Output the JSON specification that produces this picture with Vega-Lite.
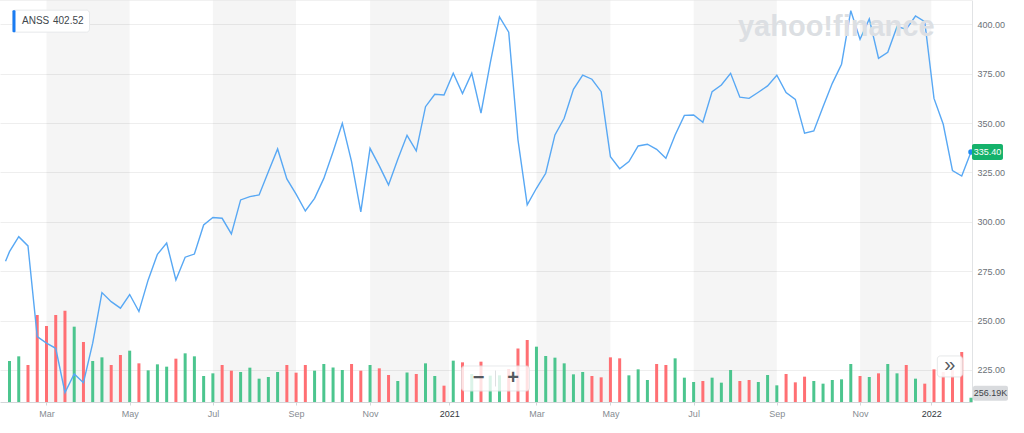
{
  "$schema": "https://vega.github.io/schema/vega-lite/v6.json",
  "width": 972,
  "height": 402,
  "autosize": {"type": "none"},
  "padding": {"left": 0, "top": 0, "right": 52, "bottom": 31},
  "background": "white",
  "config": {"view": {"stroke": null}, "font": "Liberation Sans"},
  "datasets": {
    "weeks": [
      {"date": "2020-01-31", "close": 280.0},
      {"date": "2020-02-03", "close": 284.9, "volume": 2460000, "dir": "up"},
      {"date": "2020-02-10", "close": 292.5, "volume": 2740000, "dir": "up"},
      {"date": "2020-02-17", "close": 287.8, "volume": 2220000, "dir": "down"},
      {"date": "2020-02-24", "close": 241.9, "volume": 5220000, "dir": "down"},
      {"date": "2020-03-02", "close": 238.6, "volume": 4560000, "dir": "down"},
      {"date": "2020-03-09", "close": 236.0, "volume": 5220000, "dir": "down"},
      {"date": "2020-03-16", "close": 213.6, "volume": 5480000, "dir": "down"},
      {"date": "2020-03-23", "close": 223.0, "volume": 4520000, "dir": "up"},
      {"date": "2020-03-30", "close": 218.6, "volume": 3600000, "dir": "down"},
      {"date": "2020-04-06", "close": 238.6, "volume": 2460000, "dir": "up"},
      {"date": "2020-04-13", "close": 264.2, "volume": 2680000, "dir": "up"},
      {"date": "2020-04-20", "close": 259.6, "volume": 2220000, "dir": "down"},
      {"date": "2020-04-27", "close": 256.3, "volume": 2820000, "dir": "down"},
      {"date": "2020-05-04", "close": 263.2, "volume": 3080000, "dir": "up"},
      {"date": "2020-05-11", "close": 254.6, "volume": 2320000, "dir": "down"},
      {"date": "2020-05-18", "close": 270.6, "volume": 1900000, "dir": "up"},
      {"date": "2020-05-25", "close": 283.6, "volume": 2260000, "dir": "up"},
      {"date": "2020-06-01", "close": 289.3, "volume": 2120000, "dir": "up"},
      {"date": "2020-06-08", "close": 270.6, "volume": 2600000, "dir": "down"},
      {"date": "2020-06-15", "close": 282.1, "volume": 2920000, "dir": "up"},
      {"date": "2020-06-22", "close": 283.7, "volume": 2740000, "dir": "up"},
      {"date": "2020-06-29", "close": 298.4, "volume": 1560000, "dir": "up"},
      {"date": "2020-07-06", "close": 302.2, "volume": 1720000, "dir": "up"},
      {"date": "2020-07-13", "close": 301.8, "volume": 2220000, "dir": "down"},
      {"date": "2020-07-20", "close": 293.9, "volume": 1880000, "dir": "down"},
      {"date": "2020-07-27", "close": 311.1, "volume": 1800000, "dir": "up"},
      {"date": "2020-08-03", "close": 312.8, "volume": 2060000, "dir": "up"},
      {"date": "2020-08-10", "close": 313.6, "volume": 1400000, "dir": "up"},
      {"date": "2020-08-17", "close": 325.4, "volume": 1500000, "dir": "up"},
      {"date": "2020-08-24", "close": 336.9, "volume": 1800000, "dir": "up"},
      {"date": "2020-08-31", "close": 321.7, "volume": 2220000, "dir": "down"},
      {"date": "2020-09-07", "close": 314.0, "volume": 1760000, "dir": "down"},
      {"date": "2020-09-14", "close": 305.5, "volume": 2220000, "dir": "down"},
      {"date": "2020-09-21", "close": 311.9, "volume": 1880000, "dir": "up"},
      {"date": "2020-09-28", "close": 322.0, "volume": 2280000, "dir": "up"},
      {"date": "2020-10-05", "close": 335.5, "volume": 2070000, "dir": "up"},
      {"date": "2020-10-12", "close": 349.9, "volume": 1920000, "dir": "up"},
      {"date": "2020-10-19", "close": 330.5, "volume": 2280000, "dir": "down"},
      {"date": "2020-10-26", "close": 305.0, "volume": 1880000, "dir": "down"},
      {"date": "2020-11-02", "close": 337.2, "volume": 2220000, "dir": "up"},
      {"date": "2020-11-09", "close": 328.3, "volume": 2020000, "dir": "down"},
      {"date": "2020-11-16", "close": 318.7, "volume": 1620000, "dir": "down"},
      {"date": "2020-11-23", "close": 331.7, "volume": 1260000, "dir": "up"},
      {"date": "2020-11-30", "close": 343.8, "volume": 1770000, "dir": "up"},
      {"date": "2020-12-07", "close": 335.9, "volume": 1680000, "dir": "down"},
      {"date": "2020-12-14", "close": 358.3, "volume": 2320000, "dir": "up"},
      {"date": "2020-12-21", "close": 364.6, "volume": 1560000, "dir": "up"},
      {"date": "2020-12-28", "close": 364.2, "volume": 980000, "dir": "down"},
      {"date": "2021-01-04", "close": 375.2, "volume": 2480000, "dir": "up"},
      {"date": "2021-01-11", "close": 364.9, "volume": 2380000, "dir": "down"},
      {"date": "2021-01-18", "close": 375.2, "volume": 1680000, "dir": "up"},
      {"date": "2021-01-25", "close": 355.0, "volume": 2420000, "dir": "down"},
      {"date": "2021-02-01", "close": 380.3, "volume": 1580000, "dir": "up"},
      {"date": "2021-02-08", "close": 403.8, "volume": 1600000, "dir": "up"},
      {"date": "2021-02-15", "close": 396.0, "volume": 1980000, "dir": "down"},
      {"date": "2021-02-22", "close": 341.5, "volume": 3210000, "dir": "down"},
      {"date": "2021-03-01", "close": 308.6, "volume": 3720000, "dir": "down"},
      {"date": "2021-03-08", "close": 317.0, "volume": 3320000, "dir": "up"},
      {"date": "2021-03-15", "close": 324.6, "volume": 2760000, "dir": "up"},
      {"date": "2021-03-22", "close": 344.0, "volume": 2660000, "dir": "up"},
      {"date": "2021-03-29", "close": 352.4, "volume": 2320000, "dir": "up"},
      {"date": "2021-04-05", "close": 367.1, "volume": 1660000, "dir": "up"},
      {"date": "2021-04-12", "close": 374.3, "volume": 1800000, "dir": "up"},
      {"date": "2021-04-19", "close": 372.2, "volume": 1560000, "dir": "down"},
      {"date": "2021-04-26", "close": 365.9, "volume": 1480000, "dir": "down"},
      {"date": "2021-05-03", "close": 333.0, "volume": 2680000, "dir": "down"},
      {"date": "2021-05-10", "close": 326.9, "volume": 2620000, "dir": "down"},
      {"date": "2021-05-17", "close": 330.5, "volume": 1600000, "dir": "up"},
      {"date": "2021-05-24", "close": 338.4, "volume": 1960000, "dir": "up"},
      {"date": "2021-05-31", "close": 339.3, "volume": 1320000, "dir": "up"},
      {"date": "2021-06-07", "close": 336.7, "volume": 2280000, "dir": "down"},
      {"date": "2021-06-14", "close": 332.2, "volume": 2220000, "dir": "down"},
      {"date": "2021-06-21", "close": 344.0, "volume": 2620000, "dir": "up"},
      {"date": "2021-06-28", "close": 353.9, "volume": 1460000, "dir": "up"},
      {"date": "2021-07-05", "close": 354.1, "volume": 1200000, "dir": "up"},
      {"date": "2021-07-12", "close": 350.4, "volume": 1260000, "dir": "down"},
      {"date": "2021-07-19", "close": 365.9, "volume": 1460000, "dir": "up"},
      {"date": "2021-07-26", "close": 369.3, "volume": 1160000, "dir": "up"},
      {"date": "2021-08-02", "close": 375.2, "volume": 1920000, "dir": "up"},
      {"date": "2021-08-09", "close": 363.1, "volume": 1260000, "dir": "down"},
      {"date": "2021-08-16", "close": 362.5, "volume": 1320000, "dir": "down"},
      {"date": "2021-08-23", "close": 365.6, "volume": 1200000, "dir": "up"},
      {"date": "2021-08-30", "close": 368.8, "volume": 1620000, "dir": "up"},
      {"date": "2021-09-06", "close": 374.2, "volume": 1000000, "dir": "up"},
      {"date": "2021-09-13", "close": 365.4, "volume": 1680000, "dir": "down"},
      {"date": "2021-09-20", "close": 362.0, "volume": 1180000, "dir": "down"},
      {"date": "2021-09-27", "close": 344.9, "volume": 1520000, "dir": "down"},
      {"date": "2021-10-04", "close": 346.0, "volume": 1260000, "dir": "up"},
      {"date": "2021-10-11", "close": 358.3, "volume": 1100000, "dir": "up"},
      {"date": "2021-10-18", "close": 370.1, "volume": 1320000, "dir": "up"},
      {"date": "2021-10-25", "close": 379.8, "volume": 1360000, "dir": "up"},
      {"date": "2021-11-01", "close": 406.9, "volume": 2280000, "dir": "up"},
      {"date": "2021-11-08", "close": 392.4, "volume": 1560000, "dir": "down"},
      {"date": "2021-11-15", "close": 402.7, "volume": 1500000, "dir": "up"},
      {"date": "2021-11-22", "close": 382.8, "volume": 1720000, "dir": "down"},
      {"date": "2021-11-29", "close": 385.8, "volume": 2280000, "dir": "up"},
      {"date": "2021-12-06", "close": 398.8, "volume": 1720000, "dir": "up"},
      {"date": "2021-12-13", "close": 397.5, "volume": 2220000, "dir": "down"},
      {"date": "2021-12-20", "close": 404.2, "volume": 1400000, "dir": "up"},
      {"date": "2021-12-27", "close": 401.3, "volume": 1100000, "dir": "down"},
      {"date": "2022-01-03", "close": 362.5, "volume": 1960000, "dir": "down"},
      {"date": "2022-01-10", "close": 349.4, "volume": 1800000, "dir": "down"},
      {"date": "2022-01-17", "close": 325.9, "volume": 1920000, "dir": "down"},
      {"date": "2022-01-24", "close": 323.2, "volume": 3000000, "dir": "down"},
      {"date": "2022-01-31", "close": 335.4, "volume": 256190, "dir": "up"}
    ],
    "bands": [
      {"start": "2020-03-02", "end": "2020-05-04"},
      {"start": "2020-07-06", "end": "2020-09-07"},
      {"start": "2020-11-02", "end": "2021-01-01"},
      {"start": "2021-03-08", "end": "2021-05-03"},
      {"start": "2021-07-05", "end": "2021-09-06"},
      {"start": "2021-11-08", "end": "2022-01-01"}
    ]
  },
  "layer": [
    {
      "data": {"name": "bands"},
      "mark": {"type": "rect", "color": "#000000", "opacity": 0.04},
      "encoding": {
        "x": {
          "field": "start", "type": "temporal",
          "scale": {"type": "utc", "nice": false, "padding": 0,
            "domain": [{"year": 2020, "month": 1, "date": 26, "hours": 19, "minutes": 26, "utc": true},
                       {"year": 2022, "month": 1, "date": 31, "hours": 18, "minutes": 40, "utc": true}]},
          "axis": {
            "title": null,
            "values": [
              {"year": 2020, "month": 3, "date": 2, "utc": true},
              {"year": 2020, "month": 5, "date": 4, "utc": true},
              {"year": 2020, "month": 7, "date": 6, "utc": true},
              {"year": 2020, "month": 9, "date": 7, "utc": true},
              {"year": 2020, "month": 11, "date": 2, "utc": true},
              {"year": 2021, "month": 1, "date": 1, "utc": true},
              {"year": 2021, "month": 3, "date": 8, "utc": true},
              {"year": 2021, "month": 5, "date": 3, "utc": true},
              {"year": 2021, "month": 7, "date": 5, "utc": true},
              {"year": 2021, "month": 9, "date": 6, "utc": true},
              {"year": 2021, "month": 11, "date": 8, "utc": true},
              {"year": 2022, "month": 1, "date": 1, "utc": true}
            ],
            "labelExpr": "utcFormat(datum.value, '%m') == '01' ? utcFormat(datum.value, '%Y') : utcFormat(datum.value, '%b')",
            "labelColor": {"condition": {"test": "utcFormat(datum.value, '%m') == '01'", "value": "#33383d"}, "value": "#868c92"},
            "labelFontSize": 9,
            "labelFont": "Liberation Sans",
            "labelPadding": 4,
            "tickSize": 3,
            "tickColor": "#d3d6d9",
            "domainColor": "#d3d6d9",
            "grid": false,
            "labelFlush": false,
            "labelOverlap": false
          }
        },
        "x2": {"field": "end"}
      }
    },
    {
      "data": {"name": "weeks"},
      "transform": [{"filter": "isValid(datum.volume)"}],
      "mark": {"type": "bar", "size": 3},
      "encoding": {
        "x": {"field": "date", "type": "temporal",
          "scale": {"type": "utc", "nice": false, "padding": 0,
            "domain": [{"year": 2020, "month": 1, "date": 26, "hours": 19, "minutes": 26, "utc": true},
                       {"year": 2022, "month": 1, "date": 31, "hours": 18, "minutes": 40, "utc": true}]},
          "axis": null},
        "y": {"field": "volume", "type": "quantitative",
          "scale": {"domain": [0, 24120000], "nice": false, "zero": true}, "axis": null},
        "color": {"field": "dir", "type": "nominal",
          "scale": {"domain": ["up", "down"], "range": ["#4cc58e", "#ff6f73"]}, "legend": null}
      }
    },
    {
      "layer": [
        {
          "data": {"name": "weeks"},
          "mark": {"type": "line", "color": "#58a8f4", "strokeWidth": 1.4},
          "encoding": {
            "x": {"field": "date", "type": "temporal",
              "scale": {"type": "utc", "nice": false, "padding": 0,
                "domain": [{"year": 2020, "month": 1, "date": 26, "hours": 19, "minutes": 26, "utc": true},
                           {"year": 2022, "month": 1, "date": 31, "hours": 18, "minutes": 40, "utc": true}]},
              "axis": null},
            "y": {"field": "close", "type": "quantitative",
              "scale": {"domain": [208.8, 412.3], "nice": false, "zero": false},
              "axis": {
                "orient": "right", "title": null,
                "values": [225, 250, 275, 300, 325, 350, 375, 400],
                "format": ".2f",
                "labelFontSize": 9, "labelFont": "Liberation Sans", "labelColor": "#6b7177",
                "labelPadding": 5, "ticks": false,
                "domain": true, "domainColor": "#e1e3e5",
                "grid": true, "gridColor": "#eeeeee", "gridWidth": 1
              }}
          }
        },
        {
          "data": {"values": [{"top": 412.3}]},
          "mark": {"type": "rule", "color": "#e3e3e3", "strokeWidth": 1},
          "encoding": {"y": {"field": "top", "type": "quantitative", "axis": null}}
        },
        {
          "data": {"values": [{"date": "2022-01-31", "price": 335.4, "label": "335.40"}]},
          "layer": [
            {"mark": {"type": "point", "filled": true, "color": "#1f8af2", "size": 30, "opacity": 1},
             "encoding": {"x": {"field": "date", "type": "temporal", "axis": null}, "y": {"field": "price", "type": "quantitative", "axis": null}}},
            {"mark": {"type": "rect", "color": "#15b26b", "cornerRadius": 2, "xOffset": 1, "x2Offset": 32, "yOffset": -8, "y2Offset": 8},
             "encoding": {"x": {"field": "date", "type": "temporal", "axis": null}, "x2": {"field": "date"}, "y": {"field": "price", "type": "quantitative", "axis": null}, "y2": {"field": "price"}}},
            {"mark": {"type": "text", "color": "white", "fontSize": 9, "font": "Liberation Sans", "align": "center", "baseline": "middle", "dx": 16.5},
             "encoding": {"x": {"field": "date", "type": "temporal", "axis": null}, "y": {"field": "price", "type": "quantitative", "axis": null}, "text": {"field": "label"}}}
          ]
        },
        {
          "data": {"values": [{"date": "2022-01-31", "price": 213.2, "label": "256.19K"}]},
          "layer": [
            {"mark": {"type": "rect", "color": "#d9dbde", "cornerRadius": 2, "xOffset": 2, "x2Offset": 37, "yOffset": -7.5, "y2Offset": 7.5},
             "encoding": {"x": {"field": "date", "type": "temporal", "axis": null}, "x2": {"field": "date"}, "y": {"field": "price", "type": "quantitative", "axis": null}, "y2": {"field": "price"}}},
            {"mark": {"type": "text", "color": "#3f4449", "fontSize": 9, "font": "Liberation Sans", "align": "center", "baseline": "middle", "dx": 19.5},
             "encoding": {"x": {"field": "date", "type": "temporal", "axis": null}, "y": {"field": "price", "type": "quantitative", "axis": null}, "text": {"field": "label"}}}
          ]
        },
        {
          "data": {"values": [{"date": "2020-02-03", "price": 401.6, "sym": "ANSS", "val": "402.52"}]},
          "layer": [
            {"mark": {"type": "rect", "color": "white", "stroke": "#e6e8ea", "strokeWidth": 1, "cornerRadius": 3, "xOffset": 3, "x2Offset": 80, "yOffset": -11, "y2Offset": 11},
             "encoding": {"x": {"field": "date", "type": "temporal", "axis": null}, "x2": {"field": "date"}, "y": {"field": "price", "type": "quantitative", "axis": null}, "y2": {"field": "price"}}},
            {"mark": {"type": "rect", "color": "#1a7cf2", "cornerRadius": 1, "xOffset": 3, "x2Offset": 6, "yOffset": -11, "y2Offset": 11},
             "encoding": {"x": {"field": "date", "type": "temporal", "axis": null}, "x2": {"field": "date"}, "y": {"field": "price", "type": "quantitative", "axis": null}, "y2": {"field": "price"}}},
            {"mark": {"type": "text", "color": "#40464c", "fontSize": 10, "font": "Liberation Sans", "align": "left", "baseline": "middle", "dx": 12.5},
             "encoding": {"x": {"field": "date", "type": "temporal", "axis": null}, "y": {"field": "price", "type": "quantitative", "axis": null}, "text": {"field": "sym"}}},
            {"mark": {"type": "text", "color": "#40464c", "fontSize": 10, "font": "Liberation Sans", "align": "left", "baseline": "middle", "dx": 43.5},
             "encoding": {"x": {"field": "date", "type": "temporal", "axis": null}, "y": {"field": "price", "type": "quantitative", "axis": null}, "text": {"field": "val"}}}
          ]
        },
        {
          "data": {"values": [{"date": "2021-10-21", "price": 398.6, "label": "yahoo!finance"}]},
          "mark": {"type": "text", "color": "#dcdfe3", "fontSize": 29, "fontWeight": "bold", "font": "Liberation Sans", "align": "center", "baseline": "middle"},
          "encoding": {"x": {"field": "date", "type": "temporal", "axis": null}, "y": {"field": "price", "type": "quantitative", "axis": null}, "text": {"field": "label"}}
        },
        {
          "data": {"values": [{"date": "2021-02-05", "price": 220.7, "minus": "−", "plus": "+"}]},
          "layer": [
            {"mark": {"type": "rect", "color": "white", "opacity": 0.8, "stroke": "#e4e6e8", "strokeWidth": 1, "cornerRadius": 3, "xOffset": -34, "x2Offset": 34, "yOffset": -12.5, "y2Offset": 12.5},
             "encoding": {"x": {"field": "date", "type": "temporal", "axis": null}, "x2": {"field": "date"}, "y": {"field": "price", "type": "quantitative", "axis": null}, "y2": {"field": "price"}}},
            {"mark": {"type": "rule", "color": "#dddfe1", "yOffset": -8, "y2Offset": 8},
             "encoding": {"x": {"field": "date", "type": "temporal", "axis": null}, "y": {"field": "price", "type": "quantitative", "axis": null}, "y2": {"field": "price"}}},
            {"mark": {"type": "text", "color": "#55595e", "fontSize": 20, "fontWeight": "bold", "font": "Liberation Sans", "align": "center", "baseline": "middle", "dx": -17},
             "encoding": {"x": {"field": "date", "type": "temporal", "axis": null}, "y": {"field": "price", "type": "quantitative", "axis": null}, "text": {"field": "minus"}}},
            {"mark": {"type": "text", "color": "#55595e", "fontSize": 20, "fontWeight": "bold", "font": "Liberation Sans", "align": "center", "baseline": "middle", "dx": 17.5},
             "encoding": {"x": {"field": "date", "type": "temporal", "axis": null}, "y": {"field": "price", "type": "quantitative", "axis": null}, "text": {"field": "plus"}}}
          ]
        },
        {
          "data": {"values": [{"date": "2022-01-15", "price": 226.8, "label": "»"}]},
          "layer": [
            {"mark": {"type": "rect", "color": "white", "opacity": 0.9, "stroke": "#e4e6e8", "strokeWidth": 1, "cornerRadius": 3, "xOffset": -12.5, "x2Offset": 12.5, "yOffset": -10.5, "y2Offset": 10.5},
             "encoding": {"x": {"field": "date", "type": "temporal", "axis": null}, "x2": {"field": "date"}, "y": {"field": "price", "type": "quantitative", "axis": null}, "y2": {"field": "price"}}},
            {"mark": {"type": "text", "color": "#55595e", "fontSize": 20, "font": "Liberation Sans", "align": "center", "baseline": "middle", "dy": -1},
             "encoding": {"x": {"field": "date", "type": "temporal", "axis": null}, "y": {"field": "price", "type": "quantitative", "axis": null}, "text": {"field": "label"}}}
          ]
        }
      ],
      "resolve": {"axis": {"y": "independent"}}
    }
  ],
  "resolve": {"scale": {"y": "independent"}, "axis": {"x": "independent"}}
}
